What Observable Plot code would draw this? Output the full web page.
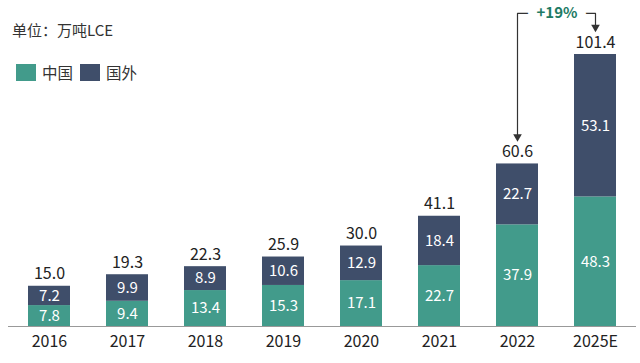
<!DOCTYPE html>
<html>
<head>
<meta charset="utf-8">
<script src="https://cdn.jsdelivr.net/npm/d3@7"></script>
<script src="https://cdn.jsdelivr.net/npm/@observablehq/plot@0.6"></script>
<style>
  html, body { margin: 0; padding: 0; background: #fff; }
  #wrap { position: relative; width: 640px; height: 363px; font-family: "Noto Sans CJK SC", "Noto Sans", sans-serif; color: #333; }
  #unit { position: absolute; left: 12px; top: 19px; font-size: 15px; }
  #legend { position: absolute; left: 16px; top: 61px; display: flex; align-items: center; font-size: 15.5px; }
  .sw { display: inline-block; width: 20px; height: 17px; margin-right: 6px; }
  .item { display: flex; align-items: center; margin-right: 7px; }
  #chart { position: absolute; left: 0; top: 0; }
</style>
</head>
<body>
<div id="wrap">
  <div id="chart"></div>
  <div id="unit">单位：万吨LCE</div>
  <div id="legend"></div>
</div>
<script>
const years = ["2016", "2017", "2018", "2019", "2020", "2021", "2022", "2025E"];
const china = [7.8, 9.4, 13.4, 15.3, 17.1, 22.7, 37.9, 48.3];
const overseas = [7.2, 9.9, 8.9, 10.6, 12.9, 18.4, 22.7, 53.1];
const totals = [15.0, 19.3, 22.3, 25.9, 30.0, 41.1, 60.6, 101.4];
const seriesNames = ["中国", "国外"];
const seriesColors = ["#429b8b", "#3f4e6a"];
const growthFrom = "2022";
const growthTo = "2025E";
const growthLabel = "+19%";

const rows = [];
years.forEach((y, i) => {
  rows.push({year: y, series: seriesNames[0], value: china[i]});
  rows.push({year: y, series: seriesNames[1], value: overseas[i]});
});
const totalRows = years.map((y, i) => ({year: y, total: totals[i]}));

// bracket annotation (levels relative to the bar totals)
const gap = 9.4;
const maxTotal = d3.max(totals);
const topLevel = maxTotal + 15.3;
const fromTotal = totals[years.indexOf(growthFrom)];
const toTotal = totals[years.indexOf(growthTo)];
const bracket = [
  {x: growthFrom, y: fromTotal + gap},
  {x: growthFrom, y: topLevel},
  {x: growthTo, y: topLevel},
  {x: growthTo, y: toTotal + gap}
];
const tips = [bracket[0], bracket[3]];

const font = "Noto Sans CJK SC";

const chart = Plot.plot({
  width: 640,
  height: 363,
  marginLeft: 8,
  marginRight: 4,
  marginTop: 54,
  marginBottom: 37,
  style: {fontFamily: font, background: "transparent"},
  x: {domain: years, paddingInner: 0.465, paddingOuter: 0.229, axis: null},
  y: {domain: [0, maxTotal], axis: null},
  color: {domain: seriesNames, range: seriesColors},
  marks: [
    Plot.barY(rows, {x: "year", y: "value", fill: "series"}),
    Plot.text(rows, Plot.stackY({x: "year", y: "value", z: "series", text: d => d.value.toFixed(1), fill: "white", fontSize: 15})),
    Plot.text(totalRows, {x: "year", y: "total", text: d => d.total.toFixed(1), dy: -12, fill: "#222", fontSize: 16}),
    Plot.ruleY([0], {stroke: "#999", strokeWidth: 1.2}),
    Plot.axisX({domain: years, tickSize: 0, tickPadding: 9, fontSize: 16, fill: "#222", label: null}),
    Plot.line(bracket, {x: "x", y: "y", stroke: "#333", strokeWidth: 1.2}),
    Plot.dot(tips, {x: "x", y: "y", symbol: "triangle", rotate: 180, r: 3.2, fill: "#333", dy: -2}),
    Plot.text([growthLabel], {x: () => growthFrom, y: () => topLevel, text: d => d, dx: 39.5, fill: "#1e7b65", fontWeight: "bold", fontSize: 15, stroke: "white", strokeWidth: 18})
  ]
});
document.getElementById("chart").appendChild(chart);

const legend = document.getElementById("legend");
seriesNames.forEach((n, i) => {
  const item = document.createElement("span");
  item.className = "item";
  const sw = document.createElement("span");
  sw.className = "sw";
  sw.style.background = seriesColors[i];
  item.appendChild(sw);
  item.appendChild(document.createTextNode(n));
  legend.appendChild(item);
});
</script>
</body>
</html>
